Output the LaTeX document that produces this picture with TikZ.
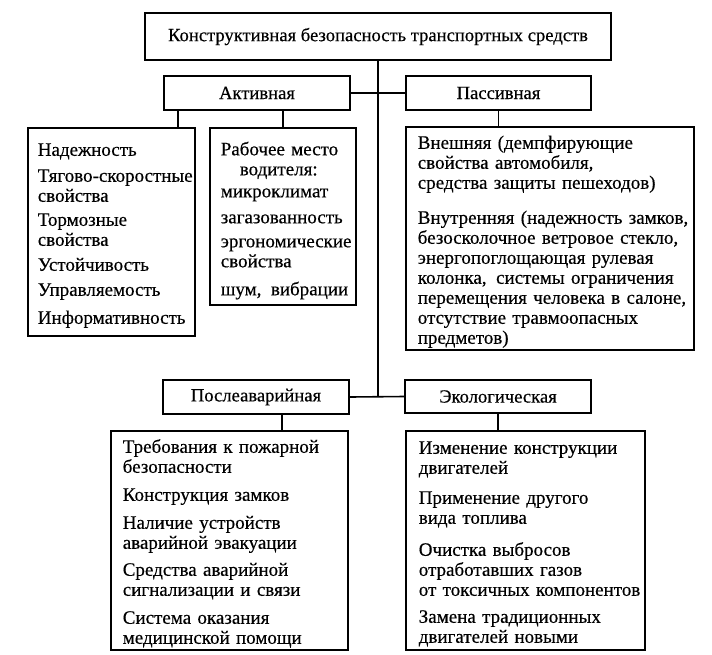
\documentclass[tikz,border=0pt]{standalone}
\usepackage{fontspec}
\setmainfont{Liberation Serif}[FakeBold=0.4]
\newcommand{\lines}[2][22pt]{\begin{tabular}{@{}l@{}}\rule{0pt}{#1}#2\end{tabular}}
\begin{document}
\begin{tikzpicture}[x=1pt,y=-1pt,line width=1.6pt,
	head/.style={draw,minimum height=34pt,inner sep=0pt,font=\fontsize{18.6}{20}\selectfont},
	list/.style={draw,anchor=north west,align=left,inner xsep=11pt,inner ysep=0pt,font=\fontsize{19}{20}\selectfont}]
	
	\useasboundingbox (0,0) rectangle (712,654);
	
	\node[head,minimum width=466pt,minimum height=47pt] (top) at (378,36.5) {Конструктивная безопасность транспортных средств};
	\node[head,minimum width=186pt] (akt) at (257,93) {Активная};
	\node[head,minimum width=185pt] (pas) at (498.5,93) {Пассивная};
	\node[head,minimum width=186pt] (posle) at (256,397) {Послеаварийная};
	\node[head,minimum width=186pt,minimum height=33pt] (eko) at (498,396.5) {Экологическая};
	
	\node[list,inner xsep=10pt,text width=147pt,minimum height=208pt] (nad) at (27,127)
	{\lines{Надежность\\[6pt] Тягово-скоростные\\свойства\\[4pt] Тормозные\\свойства\\[5pt] Устойчивость\\[5pt] Управляемость\\[8pt] Информативность}};
	\node[list,text width=124pt,minimum height=177pt] (rab) at (209,127)
	{\lines[24pt]{Рабочее место\\\hspace*{19pt}водителя:\\[2pt] микроклимат\\[6pt] загазованность\\[4pt] эргономические\\свойства\\[8pt] шум,\, вибрации}};
	\node[list,inner xsep=12pt,text width=264pt,minimum height=221pt] (vnesh) at (405,126)
	{\lines{Внешняя (демпфирующие\\свойства автомобиля,\\средства защиты пешеходов)\\[15pt]
	Внутренняя (надежность замков,\\безосколочное ветровое стекло,\\энергопоглощающая рулевая\\колонка,\, системы ограничения\\перемещения человека в салоне,\\отсутствие травмоопасных\\предметов)}};
	\node[list,inner xsep=12pt,text width=213pt,minimum height=219pt] (avar) at (110,430)
	{\lines{Требования к пожарной\\безопасности\\[8pt] Конструкция замков\\[8pt] Наличие устройств\\аварийной эвакуации\\[7pt] Средства аварийной\\сигнализации и связи\\[8pt] Система оказания\\медицинской помощи}};
	\node[list,inner xsep=13pt,text width=213pt,minimum height=219pt] (ekol) at (405,430)
	{\lines{Изменение конструкции\\двигателей\\[10pt] Применение другого\\вида топлива\\[12pt] Очистка выбросов\\отработавших газов\\от токсичных компонентов\\[7pt] Замена традиционных\\двигателей новыми}};
	
	\draw (top.south) -- (top.south |- posle.east);
	\draw (akt.east) -- (pas.west);
	\draw (posle.east) -- (eko.west);
	\draw ([xshift=-79pt]akt.south) -- ([xshift=-79pt]akt.south |- nad.north);
	\draw ([xshift=26pt]akt.south) -- ([xshift=26pt]akt.south |- rab.north);
	\draw (pas.south) -- (pas.south |- vnesh.north);
	\draw ([xshift=26pt]posle.south) -- ([xshift=26pt]posle.south |- avar.north);
	\draw (eko.south) -- (eko.south |- ekol.north);
\end{tikzpicture}
\end{document}
